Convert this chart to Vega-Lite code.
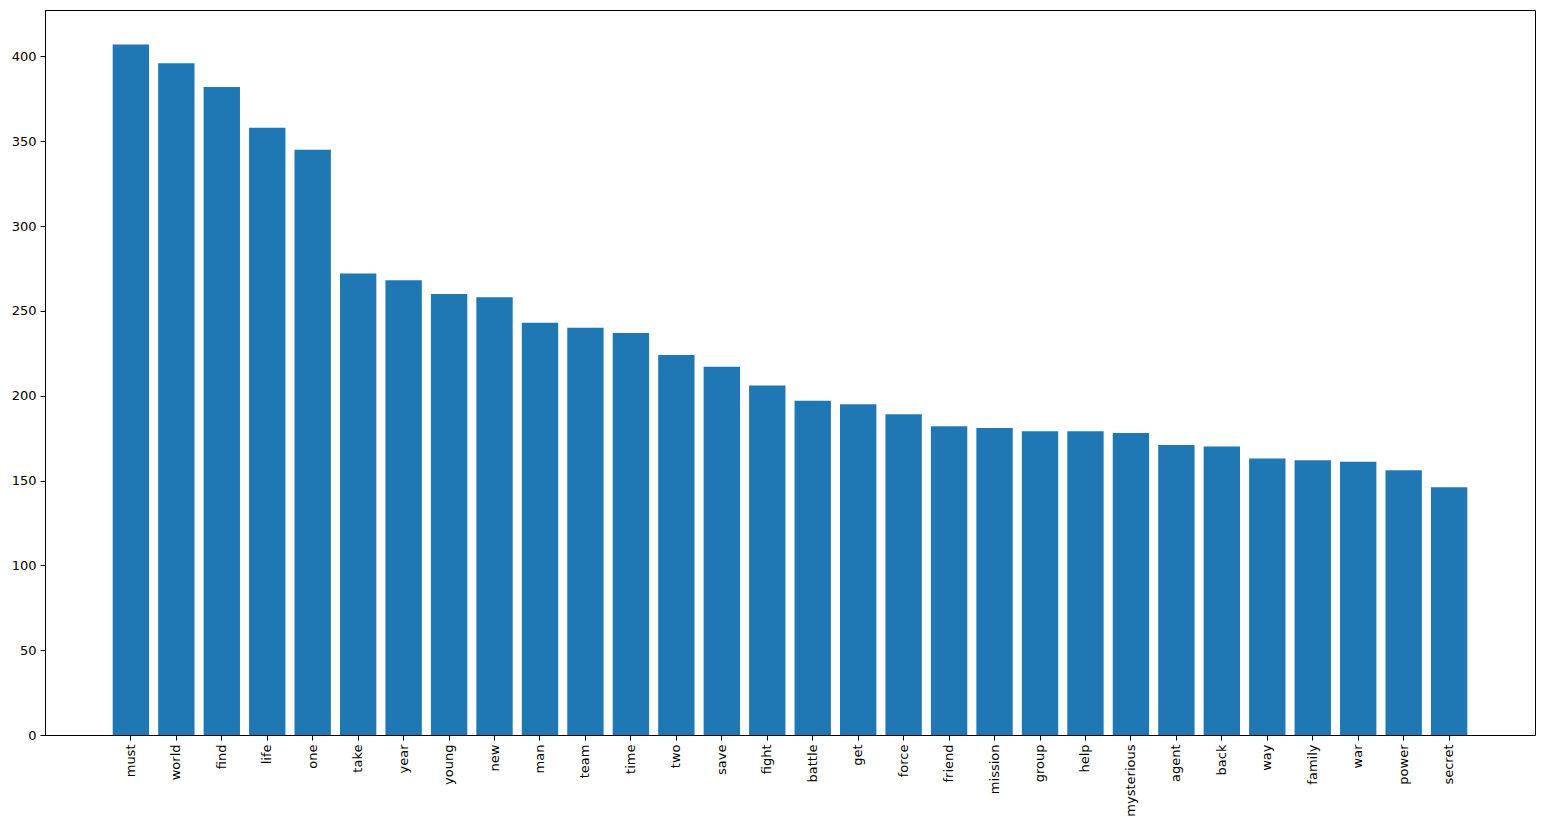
{
  "$schema": "https://vega.github.io/schema/vega-lite/v6.json",
  "autosize": "none",
  "width": 1490,
  "height": 725,
  "padding": {"left": 45, "top": 10, "right": 9, "bottom": 93},
  "background": "white",
  "config": {
    "font": "DejaVu Sans",
    "view": {"stroke": "#000000", "strokeWidth": 1},
    "axis": {
      "grid": false,
      "domainColor": "#000000",
      "domainWidth": 1,
      "tickColor": "#000000",
      "tickSize": 5,
      "tickWidth": 1,
      "labelColor": "#000000",
      "labelFont": "DejaVu Sans",
      "labelFontSize": 13,
      "labelPadding": 4,
      "title": null
    }
  },
  "data": {
    "values": [
      {"word": "must", "count": 407},
      {"word": "world", "count": 396},
      {"word": "find", "count": 382},
      {"word": "life", "count": 358},
      {"word": "one", "count": 345},
      {"word": "take", "count": 272},
      {"word": "year", "count": 268},
      {"word": "young", "count": 260},
      {"word": "new", "count": 258},
      {"word": "man", "count": 243},
      {"word": "team", "count": 240},
      {"word": "time", "count": 237},
      {"word": "two", "count": 224},
      {"word": "save", "count": 217},
      {"word": "fight", "count": 206},
      {"word": "battle", "count": 197},
      {"word": "get", "count": 195},
      {"word": "force", "count": 189},
      {"word": "friend", "count": 182},
      {"word": "mission", "count": 181},
      {"word": "group", "count": 179},
      {"word": "help", "count": 179},
      {"word": "mysterious", "count": 178},
      {"word": "agent", "count": 171},
      {"word": "back", "count": 170},
      {"word": "way", "count": 163},
      {"word": "family", "count": 162},
      {"word": "war", "count": 161},
      {"word": "power", "count": 156},
      {"word": "secret", "count": 146}
    ]
  },
  "mark": {"type": "bar", "color": "#1f77b4"},
  "encoding": {
    "x": {
      "field": "word",
      "type": "nominal",
      "sort": null,
      "scale": {"paddingInner": 0.2, "paddingOuter": 0, "range": [67.7, 1422.3]},
      "axis": {"labelAngle": -90}
    },
    "y": {
      "field": "count",
      "type": "quantitative",
      "scale": {"domain": [0, 427.35], "nice": false, "zero": true},
      "axis": {"values": [0, 50, 100, 150, 200, 250, 300, 350, 400]}
    }
  }
}
